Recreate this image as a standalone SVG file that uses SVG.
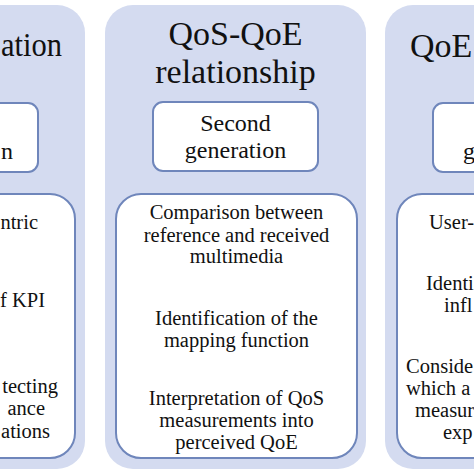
<svg xmlns="http://www.w3.org/2000/svg" width="474" height="474" viewBox="0 0 474 474">
<style>
.panel{fill:#d4dbf0;stroke:none}
.box{fill:#ffffff;stroke:#6f86bb;stroke-width:2}
text{fill:#111111}
.title{font-size:34px}
.gen{font-size:24px}
.item{font-size:20.5px}
.m{text-anchor:middle}
.e{text-anchor:end}
.s{text-anchor:start}
</style>
<rect width="474" height="474" fill="#ffffff"/>
<g font-family="'Liberation Serif', 'Times New Roman', 'DejaVu Serif', serif">
<g id="panel-left">
<rect class="panel" x="-176" y="5" width="261" height="464" rx="28"/>
<text class="title s" x="1" y="56" textLength="61" lengthAdjust="spacingAndGlyphs">ation</text>
<g id="left-generation">
<rect class="box" x="-128" y="103" width="166" height="69" rx="10"/>
<text class="gen e" x="13" y="159">n</text>
</g>
<g id="left-items">
<rect class="box" x="-166" y="194" width="241" height="264" rx="25"/>
<text class="item e" x="38" y="229">ntric</text>
<text class="item e" x="45" y="307">f KPI</text>
<text class="item e" x="58" y="393">tecting</text>
<text class="item e" x="45" y="415">ance</text>
<text class="item e" x="50" y="438">ations</text>
</g>
</g>
<g id="panel-center">
<rect class="panel" x="105" y="5" width="261" height="464" rx="28"/>
<text class="title m" x="235.5" y="45">QoS-QoE</text>
<text class="title m" x="235.5" y="83">relationship</text>
<g id="center-generation">
<rect class="box" x="153" y="102" width="165" height="69" rx="10"/>
<text class="gen m" x="235.5" y="131">Second</text>
<text class="gen m" x="235.5" y="158">generation</text>
</g>
<g id="center-items">
<rect class="box" x="116" y="194" width="241" height="264" rx="25"/>
<text class="item m" x="236.5" y="219">Comparison between</text>
<text class="item m" x="236.5" y="242">reference and received</text>
<text class="item m" x="236.5" y="263">multimedia</text>
<text class="item m" x="236.5" y="325">Identification of the</text>
<text class="item m" x="236.5" y="347">mapping function</text>
<text class="item m" x="236.5" y="405">Interpretation of QoS</text>
<text class="item m" x="236.5" y="427">measurements into</text>
<text class="item m" x="236.5" y="449">perceived QoE</text>
</g>
</g>
<g id="panel-right">
<rect class="panel" x="385" y="5" width="261" height="464" rx="28"/>
<text class="title s" x="410" y="57">QoE</text>
<g id="right-generation">
<rect class="box" x="433" y="103" width="166" height="69" rx="10"/>
<text class="gen s" x="463" y="159">g</text>
</g>
<g id="right-items">
<rect class="box" x="397" y="194" width="241" height="264" rx="25"/>
<text class="item s" x="429" y="229">User-</text>
<text class="item s" x="426" y="290">Identi</text>
<text class="item s" x="444" y="312">infl</text>
<text class="item s" x="406" y="373">Conside</text>
<text class="item s" x="406" y="395">which a</text>
<text class="item s" x="415" y="417">measur</text>
<text class="item s" x="443" y="439">exp</text>
</g>
</g>
</g>
<g id="connectors"/>
</svg>
